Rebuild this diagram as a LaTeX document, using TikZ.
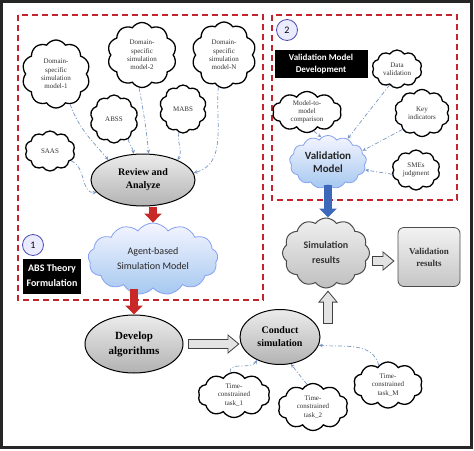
\documentclass[tikz,border=0pt]{standalone}
\usepackage{fontspec}
\setmainfont{Liberation Serif}
\newfontfamily\carl{Carlito}
\usetikzlibrary{shapes.symbols,shapes.geometric,arrows.meta,calc}
\definecolor{linkblue}{RGB}{120,150,195}
\definecolor{dashred}{RGB}{195,35,45}
\definecolor{arrred}{RGB}{200,40,40}
\definecolor{arrblue}{RGB}{60,105,185}
\definecolor{cloudblue}{RGB}{165,200,240}
\begin{document}
\begin{tikzpicture}[x=1pt,y=-1pt,
  wcloud/.style={cloud, cloud puffs=10, cloud puff arc=115, cloud ignores aspect, draw=black, line width=1.3pt, fill=white, inner sep=0pt, align=center, font=\fontsize{7}{8.3}\selectfont, text=black!80},
  bcloud/.style={cloud, cloud puffs=13, cloud puff arc=110, cloud ignores aspect, draw=cloudblue!80!blue, line width=0.8pt, top color=blue!4, bottom color=cloudblue, inner sep=0pt, align=center, text=black!85},
  gcloud/.style={cloud, cloud puffs=12, cloud puff arc=110, cloud ignores aspect, draw=black!70, line width=1pt, top color=gray!12, bottom color=gray!50, inner sep=0pt, align=center, text=black!80},
  gell/.style={ellipse, draw=black, line width=1pt, top color=gray!15, bottom color=gray!60, inner sep=0pt, align=center, font=\bfseries},
  reddash/.style={draw=dashred, line width=1.6pt, dash pattern=on 6pt off 4pt},
  conn/.style={draw=linkblue, line width=0.7pt, dash pattern=on 4pt off 2pt on 1pt off 2pt, -{Stealth[length=4pt,width=3.5pt]}},
  redarr/.style={draw=arrred, line width=8pt, -{Triangle[width=17pt,length=9pt]}},
  bluearr/.style={draw=arrblue, line width=8pt, -{Triangle[width=17pt,length=9pt]}},
  garrout/.style={draw=black!75, line width=10pt, -{Triangle[width=19pt,length=12pt]}},
  garrin/.style={draw=gray!22, line width=7.8pt, shorten <=1.4pt, shorten >=1.6pt, -{Triangle[width=15.4pt,length=9.6pt]}},
  blabel/.style={fill=black, text=white, font=\carl\bfseries, align=center, inner sep=0pt},
  numcirc/.style={circle, draw=blue!40!gray, line width=0.8pt, fill=blue!8, minimum size=21pt, inner sep=0pt, font=\carl\fontsize{10}{12}\selectfont},
]
\useasboundingbox (0,0) rectangle (474,450);
\draw[black!85, line width=3pt] (1.5,1.5) rectangle (471.5,447.5);

% dashed frames
\draw[reddash] (18,15) rectangle (263,300);
\draw[reddash] (272,15) rectangle (457,200);

% frame 1 content
\node[wcloud, minimum width=68pt, minimum height=68pt] (dm1) at (56,74) {Domain-\\specific\\simulation\\model-1};
\node[wcloud, minimum width=69pt, minimum height=65pt] (dm2) at (142,55) {Domain-\\specific\\simulation\\model-2};
\node[wcloud, minimum width=64pt, minimum height=66pt] (dmN) at (224,55) {Domain-\\specific\\simulation\\model-N};
\node[wcloud, minimum width=48pt, minimum height=48pt] (abss) at (114,119) {ABSS};
\node[wcloud, minimum width=47pt, minimum height=48pt] (mabs) at (183,109) {MABS};
\node[wcloud, minimum width=50pt, minimum height=40pt] (saas) at (50,151) {SAAS};
\node[gell, minimum width=104pt, minimum height=52pt, font=\bfseries\fontsize{10}{13}\selectfont] (review) at (143,180) {Review and\\Analyze};
\node[bcloud, minimum width=130pt, minimum height=72pt, font=\carl\fontsize{10}{15}\selectfont] (abm) at (153,259) {Agent-based\\Simulation Model};
\node[numcirc] (c1) at (33,245) {1};
\node[blabel, minimum width=58pt, minimum height=35pt, font=\carl\bfseries\fontsize{10}{15}\selectfont] (absbox) at (52,276) {ABS Theory\\Formulation};

% frame 2 content
\node[numcirc] (c2) at (287,30) {2};
\node[blabel, minimum width=93pt, minimum height=28pt, font=\carl\bfseries\fontsize{9}{12}\selectfont] (vmbox) at (321,64) {Validation Model\\Development};
\node[wcloud, minimum width=50pt, minimum height=38pt] (dval) at (397,69) {Data\\validation};
\node[wcloud, minimum width=69pt, minimum height=41pt] (m2m) at (307,112) {Model-to-\\model\\comparison};
\node[wcloud, minimum width=55pt, minimum height=47pt] (key) at (422,113) {Key\\indicators};
\node[bcloud, minimum width=77pt, minimum height=53pt, font=\carl\bfseries\fontsize{11}{13}\selectfont] (valm) at (328,162) {Validation\\Model};
\node[wcloud, minimum width=48pt, minimum height=40pt] (smes) at (416,170) {SMEs\\judgment};

% lower part
\node[gell, minimum width=98pt, minimum height=58pt, font=\bfseries\fontsize{11}{15}\selectfont] (dev) at (134,344) {Develop\\algorithms};
\node[gell, minimum width=80pt, minimum height=55pt, font=\bfseries\fontsize{10}{13}\selectfont] (cond) at (280,337) {Conduct\\simulation};
\node[gcloud, minimum width=87pt, minimum height=70pt, font=\carl\bfseries\fontsize{10}{15}\selectfont] (simres) at (326,253) {Simulation\\results};
\node[draw=black!70, line width=0.8pt, rounded corners=6pt, top color=gray!10, bottom color=gray!45, minimum width=62pt, minimum height=59pt, align=center, font=\bfseries\fontsize{9}{12}\selectfont, text=black!80] (valres) at (429,257) {Validation\\results};
\node[wcloud, minimum width=72pt, minimum height=45pt] (t1) at (234,395) {Time-\\constrained\\task\_1};
\node[wcloud, minimum width=70pt, minimum height=47pt] (t2) at (313,407) {Time-\\constrained\\task\_2};
\node[wcloud, minimum width=69pt, minimum height=46pt] (tM) at (388,385) {Time-\\constrained\\task\_M};

% dash-dot connectors
\draw[conn] (dm1.-65) to[out=-70,in=130] (review.150);
\draw[conn] (abss.-55) to[out=-80,in=95] (review.110);
\draw[conn] (dm2.-95) to[out=-80,in=95] (review.78);
\draw[conn] (mabs.-100) to[out=-100,in=60] (review.30);
\draw[conn] (dmN.-100) to[out=-95,in=15] (review.8);
\draw[conn] (saas.-25) to[out=-20,in=185] (review.195);
\draw[conn] (dval.-115) -- (valm.50);
\draw[conn] (m2m.-70) -- (valm.105);
\draw[conn] (key.-140) -- (valm.18);
\draw[conn] (smes.190) -- (valm.-12);
\draw[conn] (t1.100) to[out=95,in=-120] (cond.-135);
\draw[conn] (t2.105) -- (cond.-68);
\draw[conn] (tM.115) to[out=105,in=-5] (cond.-12);

% block arrows
\draw[redarr] (abm.north |- review.south) -- (abm.north);
\draw[redarr] (dev.north |- abm.south) -- (dev.north);
\draw[bluearr] (valm.south) -- (valm.south |- simres.north);

\coordinate (hs) at ($(dev.east)+(4,0)$);
\coordinate (he) at (cond.west |- hs);
\draw[garrout] (hs) -- (he);
\draw[garrin] (hs) -- (he);

\coordinate (us) at (328,324);
\coordinate (ue) at ($(us |- simres.south)+(0,2)$);
\draw[garrout] (us) -- (ue);
\draw[garrin] (us) -- (ue);

\coordinate (rs) at ($(simres.east)+(2,8)$);
\coordinate (re) at ($(valres.west |- rs)+(-3,0)$);
\draw[garrout] (rs) -- (re);
\draw[garrin] (rs) -- (re);
\end{tikzpicture}
\end{document}
